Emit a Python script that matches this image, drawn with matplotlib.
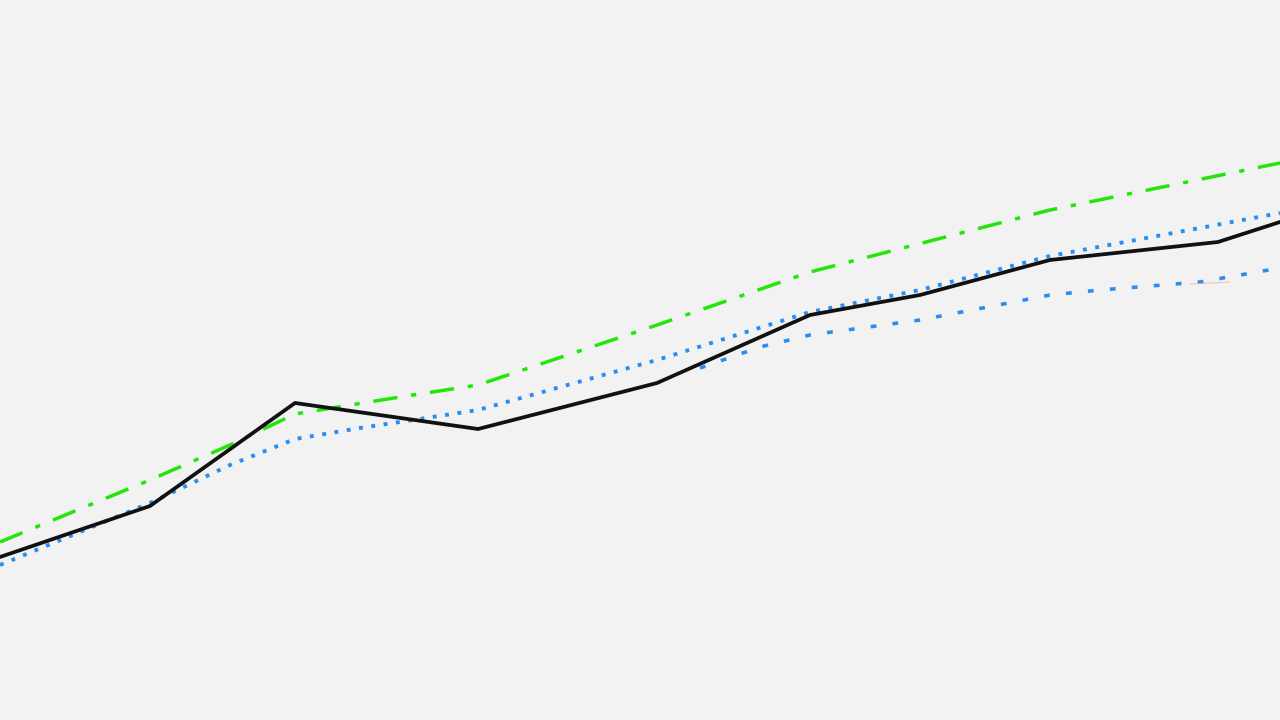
import matplotlib
matplotlib.use("Agg")
import matplotlib.pyplot as plt

# Values (x position, value; value axis grows upward)
black_x = [0, 150, 295, 478, 657, 810, 920, 1050, 1218, 1280]
black_y = [163, 214, 317, 291, 337, 405, 425, 460, 478, 498]

green_x = [0, 150, 230, 295, 400, 478, 657, 810, 1050, 1280]
green_y = [178, 240, 275, 306, 323, 335, 395, 448, 510, 557]

blue_x = [0, 150, 230, 295, 360, 400, 478, 657, 810, 920, 1050, 1280]
blue_y = [155, 217, 255, 281, 292, 298, 310, 360, 408, 430, 464, 507]

blue2_x = [700, 760, 810, 920, 1050, 1100, 1200, 1280]
blue2_y = [352, 373, 385, 400, 425, 430, 438, 452]

red_x = [1190, 1230]
red_y = [436, 438]

fig = plt.figure(figsize=(12.8, 7.2), dpi=100)
fig.patch.set_facecolor("#f2f2f2")
ax = fig.add_axes([0, 0, 1, 1])
ax.set_facecolor("#f2f2f2")
ax.set_xlim(0, 1280)
ax.set_ylim(0, 720)
ax.axis("off")

ax.plot(green_x, green_y, color="#22e60a", lw=2.5, linestyle=(0, (7, 4, 1.5, 4)),
        solid_capstyle="butt", dash_capstyle="butt")
ax.plot(blue_x, blue_y, color="#2a8ef0", lw=2.8, linestyle=(0, (1, 2.2)))
ax.plot(blue2_x, blue2_y, color="#2a8ef0", lw=2.6, linestyle=(0, (1.6, 4.5)))
ax.plot(red_x, red_y, color="#f0a0a0", lw=0.8, alpha=0.6)
ax.plot(black_x, black_y, color="#111111", lw=2.7, solid_joinstyle="miter")

fig.savefig("out.png", dpi=100, facecolor=fig.get_facecolor())
